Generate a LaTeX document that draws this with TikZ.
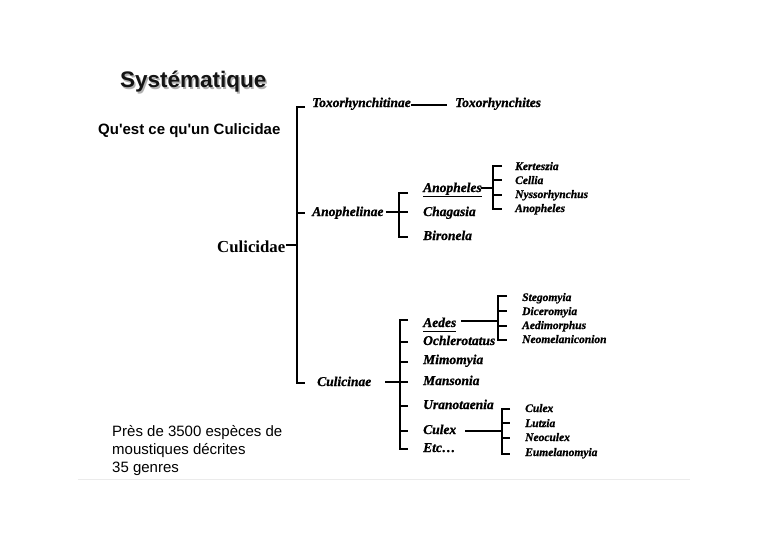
\documentclass[tikz,border=0pt]{standalone}
\usepackage{fontspec}
\setmainfont{Liberation Serif}[BoldItalicFeatures={FakeBold=1}]
\newfontfamily\arialf{Liberation Sans}
\begin{document}
\begin{tikzpicture}[x=1pt,y=-1pt,
  ln/.style={line width=1.6pt},
  sln/.style={line width=1.4pt},
  lvl/.style={font=\bfseries\itshape\fontsize{13.5}{16}\selectfont, anchor=base west, inner sep=0pt},
  sg/.style={font=\bfseries\itshape\fontsize{11.5}{14}\selectfont, anchor=base west, inner sep=0pt},
  sans/.style={font=\arialf\fontsize{15}{18}\selectfont, anchor=base west, inner sep=0pt}]
\fill[white] (0,0) rectangle (768,543);
\useasboundingbox (0,0) rectangle (768,543);

% title
\node[anchor=base west, inner sep=0pt, font=\arialf\bfseries\fontsize{22.5}{26}\selectfont, text=black!30] (titleshadow) at (121.5,89.5) {Systématique};
\node[anchor=base west, inner sep=0pt, font=\arialf\bfseries\fontsize{22.5}{26}\selectfont, text=black!92] (title) at (120,88) {Systématique};
\node[anchor=base west, inner sep=0pt, font=\arialf\bfseries\fontsize{15}{18}\selectfont] (question) at (98,134) {Qu'est ce qu'un Culicidae};

% root
\node[anchor=base west, inner sep=0pt, font=\bfseries\fontsize{16.8}{20}\selectfont] (culicidae) at (217,252) {Culicidae};
\coordinate (root) at (297,245);
\draw[ln] (culicidae.east |- root) -- (root);
\draw[ln] (305,107) -- (297,107) -- (297,383) -- (305,383);
\draw[ln] (297,213) -- (305,213);

% Toxorhynchitinae
\node[lvl] (toxi) at (312,107) {Toxorhynchitinae};
\node[lvl] (toxs) at (455,107) {Toxorhynchites};
\draw[ln] (toxi.east |- 0,105) -- ([xshift=-8pt]toxs.west |- 0,105);

% Anophelinae
\node[lvl] (anoi) at (312,216) {Anophelinae};
\node[lvl] (anop) at (423,192) {\underline{Anopheles}};
\node[lvl] (chag) at (423,216) {Chagasia};
\node[lvl] (biro) at (423,240) {Bironela};
\coordinate (ab) at (399,212);
\draw[ln] ([xshift=2pt]anoi.east |- ab) -- (ab);
\draw[ln] (408,193) -- (399,193) -- (399,237) -- (408,237);
\draw[ln] (399,212) -- (408,212);

% Anopheles subgenera
\node[sg] (kert) at (515,170) {Kerteszia};
\node[sg] (cell) at (515,184) {Cellia};
\node[sg] (nyss) at (515,198) {Nyssorhynchus};
\node[sg] (anos) at (515,212) {Anopheles};
\coordinate (anb) at (493,188);
\draw[sln] ([xshift=-1pt]anop.east |- anb) -- (anb);
\draw[sln] (502,166) -- (493,166) -- (493,209) -- (502,209);
\draw[sln] (493,180) -- (502,180);
\draw[sln] (493,195) -- (502,195);

% Culicinae
\node[lvl] (culi) at (317,386) {Culicinae};
\node[lvl] (aede) at (423,327) {\underline{Aedes\vphantom{p}}};
\node[lvl] (ochl) at (423,345) {Ochlerotatus};
\node[lvl] (mimo) at (423,364) {Mimomyia};
\node[lvl] (mans) at (423,385) {Mansonia};
\node[lvl] (uran) at (423,409) {Uranotaenia};
\node[lvl] (cule) at (423,434) {Culex};
\node[lvl] (etc) at (423,452) {Etc\ldots};
\coordinate (cb) at (400,382);
\draw[ln] ([xshift=14pt]culi.east |- cb) -- (cb);
\draw[ln] (408,320) -- (400,320) -- (400,449) -- (408,449);
\foreach \yy in {342,362,382,406,431} \draw[ln] (400,\yy) -- (408,\yy);

% Aedes subgenera
\node[sg] (steg) at (522,301) {Stegomyia};
\node[sg] (dice) at (522,315) {Diceromyia};
\node[sg] (aedi) at (522,329) {Aedimorphus};
\node[sg] (neom) at (522,343) {Neomelaniconion};
\coordinate (aeb) at (498,321);
\draw[sln] ([xshift=5pt]aede.east |- aeb) -- (aeb);
\draw[line width=2.4pt] (486,321) -- (aeb);
\draw[sln] (507,296) -- (498,296) -- (498,340) -- (507,340);
\draw[sln] (498,311) -- (507,311);
\draw[sln] (498,326) -- (507,326);

% Culex subgenera
\node[sg] (cxs) at (525,412) {Culex};
\node[sg] (lutz) at (525,427) {Lutzia};
\node[sg] (neoc) at (525,441) {Neoculex};
\node[sg] (eume) at (525,456) {Eumelanomyia};
\coordinate (cxb) at (502,431);
\draw[sln] ([xshift=9pt]cule.east |- cxb) -- (cxb);
\draw[line width=2.4pt] (489,431) -- (cxb);
\draw[sln] (510,409) -- (502,409) -- (502,454) -- (510,454);
\draw[sln] (502,423) -- (510,423);
\draw[sln] (502,438) -- (510,438);

% note
\node[sans] (note1) at (112,436) {Près de 3500 espèces de};
\node[sans] (note2) at (112,454) {moustiques décrites};
\node[sans] (note3) at (112,472) {35 genres};

\draw[black!8, line width=0.8pt] (78,479) -- (690,479);
\end{tikzpicture}
\end{document}
